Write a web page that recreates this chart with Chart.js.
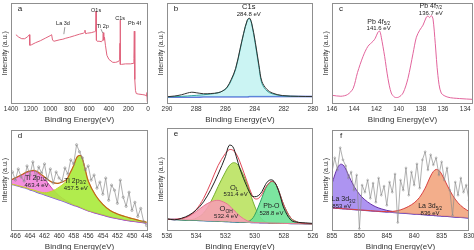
<!DOCTYPE html>
<html>
<head>
<meta charset="utf-8">
<script src="https://cdn.jsdelivr.net/npm/chart.js@4.4.1/dist/chart.umd.min.js"></script>
<style>
  html, body { margin: 0; padding: 0; background: #fff; width: 474px; height: 250px; overflow: hidden; }
  canvas { position: absolute; }
</style>
</head>
<body>
<canvas id="panelA"></canvas>
<canvas id="panelB"></canvas>
<canvas id="panelC"></canvas>
<canvas id="panelD"></canvas>
<canvas id="panelE"></canvas>
<canvas id="panelF"></canvas>
<script>
// ---- (a) survey ----
const surveyEnergy = [1350, 1320, 1290, 1260, 1230, 1212, 1208, 1190, 1150, 1100, 1050, 1000, 985, 975, 960, 900, 870, 840, 800, 750, 700, 660, 648, 644, 638, 620, 580, 545, 535, 531, 527, 520, 500, 475, 465, 460, 456, 452, 445, 435, 420, 400, 360, 330, 300, 290, 286, 284, 282, 270, 230, 180, 150, 144, 140, 137, 133, 128, 120, 100, 60, 30, 15, 10, 6, 0];
const surveyIntensity = [68.5, 66, 64.5, 64.5, 66.5, 68.5, 58, 58.5, 60.5, 62.5, 65, 67.5, 68.5, 63, 62, 63.5, 64, 65, 66, 67.5, 69, 70, 71, 73, 69.5, 70, 70.5, 71.5, 72, 92, 63, 62, 62, 61.5, 63, 69, 70.5, 63, 66, 58, 48, 44, 41, 41, 42, 43.5, 60, 83, 39, 39, 39.5, 39.5, 40, 45, 72, 40, 24, 13, 10, 9.5, 9, 8.5, 7.5, 11, 2, 1];
const surveyTicks = [1400, 1200, 1000, 800, 600, 400, 200, 0];

// ---- (b) C 1s ----
const c1sEnergy = [290, 289.5, 289, 288.6, 288.3, 288, 287.5, 287, 286.5, 286.2, 285.9, 285.6, 285.3, 285.0, 284.75, 284.5, 284.35, 284.2, 283.95, 283.7, 283.5, 283.15, 282.8, 282.1, 281, 280];
const c1sRaw = [6.8, 7.5, 8.8, 10.5, 11.3, 10.8, 9.8, 10, 10.8, 12.5, 16, 24, 35, 54, 70, 83, 85, 80, 61, 38, 22, 14, 10.6, 8, 7.2, 7];
const c1sFit = [6.6, 6.9, 7.2, 7.6, 7.9, 8.2, 8.8, 9.5, 10.8, 12.5, 15.5, 23, 34, 53, 69.5, 82.5, 84.5, 79, 59, 36, 20, 12.5, 9.8, 7.8, 7.1, 7];
const c1sBackground = [6.5, 6.5, 6.55, 6.6, 6.6, 6.65, 6.7, 6.7, 6.75, 6.8, 6.8, 6.85, 6.85, 6.9, 6.9, 6.9, 6.95, 6.95, 6.95, 7, 7, 7, 7, 7, 7, 7];
const c1sTicks = [290, 288, 286, 284, 282, 280];

// ---- (c) Pb 4f ----
const pbEnergy = [146, 145.2, 144.6, 144.1, 143.7, 143.2, 142.76, 142.3, 142.1, 141.86, 141.7, 141.56, 141.26, 140.96, 140.66, 140.36, 140, 139.6, 139.16, 138.7, 138.4, 138.1, 137.8, 137.5, 137.35, 137.2, 137.05, 136.9, 136.7, 136.46, 136.16, 135.56, 134.5, 133.3];
const pbIntensity = [8.3, 7.3, 9, 15, 31, 47, 57, 62, 65, 71, 72, 66, 47, 25, 10.5, 6.4, 6.4, 10.5, 25, 50, 66, 73, 78, 86, 87, 85.5, 87.5, 84, 60, 28, 10.5, 6.4, 5, 4.2];
const pbTicks = [146, 144, 142, 140, 138, 136, 134];

// ---- (d) Ti 2p ----
const tiRawEnergy = [466.4, 466.0, 465.6, 465.2, 464.8, 464.4, 464.0, 463.6, 463.2, 462.8, 462.4, 462.0, 461.6, 461.2, 460.8, 460.4, 460.0, 459.6, 459.2, 458.8, 458.4, 458.0, 457.6, 457.2, 456.8, 456.4, 456.0, 455.6, 455.2, 454.8, 454.4, 454.0, 453.6, 453.2, 452.8, 452.4, 452.0, 451.6, 451.2, 450.8, 450.4, 450.0, 449.6, 449.2, 448.8, 448.4, 448.0];
const tiRaw = [58, 50, 61, 53, 49, 64, 55, 68, 52, 63, 57, 66, 50, 61, 47, 58, 52, 49, 62, 56, 70, 66, 85, 78, 72, 60, 64, 50, 55, 42, 48, 36, 52, 30, 45, 40, 27, 50, 33, 24, 38, 20, 28, 14, 22, 9, 5];
const tiFitEnergy = [466.6, 466, 465, 464.5, 464, 463.5, 463, 462, 461, 460, 459, 458.5, 458, 457.5, 457, 456.5, 456, 455, 454, 453, 452, 451, 450, 449, 448];
const tiBackground = [46, 45, 43, 42, 40.5, 39.5, 38, 35.5, 33, 30.5, 28, 26.5, 25, 24, 22.5, 21, 19.5, 17.5, 15.5, 13.5, 12, 10.5, 9.5, 8.5, 7.5];
const ti2p12 = [50, 52, 55.5, 57.5, 58.5, 59, 57.5, 51, 42, 34.5, 29.5, 27.5, 25.5, 24.2, 22.6, 21.1, 19.6, 17.5, 15.5, 13.5, 12, 10.5, 9.5, 8.5, 7.5];
const ti2p32 = [46.2, 45.2, 43.3, 42.4, 41, 40.2, 39, 37.5, 39, 43, 49, 56, 64, 73, 74, 63, 49, 35, 26, 20, 16.5, 14, 12, 10, 8.3];
const tiEnvelope = [50.2, 52.2, 55.8, 57.9, 59, 59.7, 58.5, 53, 48, 47, 50.5, 57, 64.5, 73.2, 74.1, 63.1, 49.1, 35, 26, 20, 16.5, 14, 12, 10, 8.3];
const tiTicks = [466, 464, 462, 460, 458, 456, 454, 452, 450, 448];

// ---- (e) O 1s ----
const o1sEnergy = [536, 535.5, 535, 534.5, 534, 533.5, 533, 532.5, 532, 531.75, 531.5, 531.25, 531, 530.5, 530.2, 530, 529.75, 529.5, 529.25, 529, 528.75, 528.5, 528.25, 528, 527.5, 527, 526.5, 526];
const o1sRaw = [11.5, 10.5, 12, 15, 20, 28, 40, 55, 72, 83, 82, 72, 60, 42, 34, 33, 34, 38, 45, 49, 49, 44, 34, 22, 10, 8, 7.5, 7];
const o1sEnvelope = [11, 11, 11.8, 14.3, 20.5, 31.3, 46.6, 63.4, 75.2, 78.8, 78.5, 74.6, 66.8, 47, 35.5, 31.2, 31.3, 35.4, 42, 46.5, 48, 44, 35, 25, 12, 8, 7, 6.6];
const o1sOH = [11, 11, 11.8, 14, 18.5, 24, 28, 29.5, 27, 24.5, 21, 17.5, 14, 9.5, 8.3, 7.8, 7.7, 7.6, 7.5, 7.4, 7.3, 7.2, 7.1, 7, 6.9, 6.8, 6.7, 6.6];
const o1sLattice = [11, 10.8, 10.5, 10.5, 12, 17, 28, 43, 57, 63, 66, 65.5, 61, 45, 32, 24, 16, 11, 8.5, 7.4, 7.3, 7.2, 7.1, 7, 6.9, 6.8, 6.7, 6.6];
const o1sPbO = [11, 10.8, 10.5, 10.2, 10, 9.7, 9.4, 9.1, 8.8, 8.7, 8.5, 8.4, 8.2, 8.5, 11, 15, 23, 32, 41, 46.5, 48, 44, 35, 25, 12, 8, 7, 6.6];
const o1sBackground = [11, 10.8, 10.5, 10.2, 10, 9.7, 9.4, 9.1, 8.8, 8.7, 8.5, 8.4, 8.2, 8, 7.9, 7.8, 7.7, 7.6, 7.5, 7.4, 7.3, 7.2, 7.1, 7, 6.9, 6.8, 6.7, 6.6];
const o1sTicks = [536, 534, 532, 530, 528, 526];

// ---- (f) La 3d ----
const laRawEnergy = [855, 854.5, 854, 853.5, 853, 852.5, 852, 851.5, 851, 850.5, 850, 849.5, 849, 848.5, 848, 847.5, 847, 846.5, 846, 845.5, 845, 844.5, 844, 843.5, 843, 842.5, 842, 841.5, 841, 840.5, 840, 839.5, 839, 838.5, 838, 837.5, 837, 836.5, 836, 835.5, 835, 834.5, 834, 833.5, 833, 832.5, 832, 831.5, 831, 830.5, 830];
const laRaw = [58, 72, 60, 82, 70, 64, 52, 58, 40, 55, 2, 45, 38, 50, 32, 47, 28, 52, 35, 44, 25, 48, 38, 56, 8, 50, 40, 62, 35, 58, 45, 66, 42, 70, 78, 60, 75, 65, 72, 55, 68, 50, 62, 40, 15, 48, 35, 52, 38, 45, 30];
const laFitEnergy = [855, 854.5, 854, 853.5, 853, 852.5, 852, 851, 850, 849, 848, 847, 846, 845, 844, 843, 842, 841, 840, 839, 838, 837.5, 837, 836.5, 836, 835.5, 835, 834, 833, 832, 831, 830];
const laBackground = [22.5, 22.3, 22.1, 21.9, 21.7, 21.5, 21.3, 20.9, 20.5, 20.1, 19.7, 19.3, 18.9, 18.5, 18.1, 17.7, 17.3, 16.9, 16.5, 16.1, 15.7, 15.5, 15.3, 15.1, 14.9, 14.7, 14.5, 14.1, 13.7, 13.3, 12.9, 12.5];
const la3d32 = [46, 55, 62, 65.5, 65, 61, 55, 44, 36, 30.5, 26.5, 23.5, 21.5, 20, 19, 18.2, 17.6, 17.1, 16.6, 16.2, 15.8, 15.6, 15.4, 15.2, 15, 14.8, 14.6, 14.2, 13.8, 13.4, 13, 12.6];
const la3d52 = [22.5, 22.3, 22.1, 21.9, 21.7, 21.5, 21.3, 20.9, 20.5, 20.1, 19.7, 19.3, 18.9, 18.8, 19, 19.8, 21.5, 24, 27.5, 33, 42, 48, 54, 58.5, 60.5, 59.5, 56, 45, 35, 27.5, 22.5, 19];
const laTicks = [855, 850, 845, 840, 835, 830];

const FONT = '"Liberation Sans", Arial, sans-serif';
const decorById = {};

// 下付き文字つきラベルを描画
function drawLabel(ctx, x, y, text, sub, size) {
  ctx.font = size + 'px ' + FONT;
  const w1 = ctx.measureText(text).width;
  let w2 = 0;
  if (sub) {
    ctx.font = (size * 0.65) + 'px ' + FONT;
    w2 = ctx.measureText(sub).width;
  }
  const start = x - (w1 + w2) / 2;
  ctx.textAlign = 'left';
  ctx.textBaseline = 'middle';
  ctx.font = size + 'px ' + FONT;
  ctx.fillText(text, start, y);
  if (sub) {
    ctx.font = (size * 0.65) + 'px ' + FONT;
    ctx.fillText(sub, start + w1, y + size * 0.3);
  }
}

// 枠・パネル文字・注記
const panelDecor = {
  id: 'panelDecor',
  afterDatasetsDraw(chart) {
    const d = decorById[chart.canvas.id];
    if (!d) return;
    const { ctx, chartArea: a } = chart;
    const xs = chart.scales.x, ys = chart.scales.y;
    ctx.save();
    ctx.strokeStyle = '#8f8f8f';
    ctx.lineWidth = 1;
    ctx.strokeRect(Math.round(a.left) + 0.5, Math.round(a.top) + 0.5,
      Math.round(a.right - a.left) - 1, Math.round(a.bottom - a.top) - 1);
    ctx.fillStyle = '#222';
    ctx.font = '8px ' + FONT;
    ctx.textAlign = 'center';
    ctx.textBaseline = 'middle';
    ctx.fillText(d.letter, a.left + 9, a.top + 6);
    ctx.strokeStyle = '#555';
    ctx.lineWidth = 0.6;
    (d.leaders || []).forEach(l => {
      ctx.beginPath();
      ctx.moveTo(xs.getPixelForValue(l[0]), ys.getPixelForValue(l[1]));
      ctx.lineTo(xs.getPixelForValue(l[2]), ys.getPixelForValue(l[3]));
      ctx.stroke();
    });
    (d.labels || []).forEach(l => {
      ctx.fillStyle = '#222';
      drawLabel(ctx, xs.getPixelForValue(l.x), ys.getPixelForValue(l.y), l.text, l.sub, l.size || 6.5);
    });
    ctx.restore();
  }
};
Chart.register(panelDecor);

function pts(xs, ys) {
  return xs.map((x, i) => ({ x: x, y: ys[i] }));
}

function line(xs, ys, color, extra) {
  return Object.assign({
    data: pts(xs, ys),
    borderColor: color,
    borderWidth: 1,
    pointRadius: 0,
    tension: 0.35,
    fill: false
  }, extra || {});
}

function makePanel(id, area, xMin, xMax, ticks, datasets, decor) {
  const canvas = document.getElementById(id);
  const padL = 16, padT = 3, padR = 10, padB = 21;
  const w = area.right - area.left + padL + padR;
  const h = area.bottom - area.top + padT + padB;
  canvas.width = w;
  canvas.height = h;
  canvas.style.left = (area.left - padL) + 'px';
  canvas.style.top = (area.top - padT) + 'px';
  canvas.style.width = w + 'px';
  canvas.style.height = h + 'px';
  decorById[id] = decor;
  return new Chart(canvas, {
    type: 'line',
    data: { datasets: datasets },
    options: {
      responsive: false,
      animation: false,
      devicePixelRatio: 1,
      layout: { padding: { left: padL - 13.4, top: padT, right: padR, bottom: 0 } },
      plugins: { legend: { display: false }, tooltip: { enabled: false } },
      scales: {
        x: {
          type: 'linear',
          reverse: true,
          min: xMin,
          max: xMax,
          afterBuildTicks: s => { s.ticks = ticks.map(v => ({ value: v })); },
          grid: { display: false, drawTicks: false, tickLength: 0 },
          border: { display: false },
          ticks: { font: { family: FONT, size: 6.5 }, color: '#333', padding: 2, maxRotation: 0, autoSkip: false, callback: v => String(v) },
          title: { display: true, text: 'Binding Energy(eV)', font: { family: FONT, size: 8 }, color: '#333', padding: { top: 0, bottom: 1 } }
        },
        y: {
          min: 0,
          max: 100,
          ticks: { display: false },
          grid: { display: false, drawTicks: false, tickLength: 0 },
          border: { display: false },
          title: { display: true, text: 'Intensity (a.u.)', font: { family: FONT, size: 7 }, color: '#333', padding: { top: 3, bottom: 2 } }
        }
      }
    }
  });
}

// (a) survey
makePanel('panelA', { left: 11, top: 3, right: 148, bottom: 105 }, 0, 1400, surveyTicks, [
  line(surveyEnergy, surveyIntensity, '#e0647e', { tension: 0 })
], {
  letter: 'a',
  labels: [
    { x: 869, y: 80, text: 'La 3d', size: 5.5 },
    { x: 530, y: 93, text: 'O1s', size: 5.5 },
    { x: 462, y: 77, text: 'Ti 2p', size: 5.5 },
    { x: 284, y: 85, text: 'C1s', size: 5.5 },
    { x: 138, y: 80, text: 'Pb 4f', size: 5.5 }
  ],
  leaders: [[850, 76, 860, 69], [480, 74, 462, 70]]
});

// (b) C 1s
makePanel('panelB', { left: 167, top: 3, right: 313, bottom: 105 }, 280, 290, c1sTicks, [
  line(c1sEnergy, c1sRaw, '#333'),
  line(c1sEnergy, c1sFit, '#36a8a2', { fill: 2, backgroundColor: 'rgba(175,238,236,0.65)' }),
  line(c1sEnergy, c1sBackground, '#3550d0', { borderWidth: 1.5 })
], {
  letter: 'b',
  labels: [
    { x: 284.4, y: 96, text: 'C1s', size: 7.5 },
    { x: 284.4, y: 89, text: '284.8 eV', size: 6 }
  ]
});

// (c) Pb 4f
makePanel('panelC', { left: 332, top: 3, right: 473, bottom: 105 }, 133.3, 146, pbTicks, [
  line(pbEnergy, pbIntensity, '#e2649c', { tension: 0.3 })
], {
  letter: 'c',
  labels: [
    { x: 141.8, y: 81, text: 'Pb 4f', sub: '5/2', size: 7 },
    { x: 141.8, y: 75, text: '141.6 eV', size: 6 },
    { x: 137.1, y: 97, text: 'Pb 4f', sub: '7/2', size: 7 },
    { x: 137.1, y: 90, text: '136.7 eV', size: 6 }
  ]
});

// (d) Ti 2p
makePanel('panelD', { left: 11, top: 128, right: 148, bottom: 232 }, 447.8, 466.6, tiTicks, [
  line(tiRawEnergy, tiRaw, '#8c8c8c', { tension: 0, borderWidth: 0.7, pointRadius: 1.1, pointBorderWidth: 0.6, pointBorderColor: '#888', pointBackgroundColor: 'rgba(0,0,0,0)' }),
  line(tiFitEnergy, tiEnvelope, '#c0651c', { borderWidth: 1.2 }),
  line(tiFitEnergy, ti2p32, '#c8d030', { fill: 4, backgroundColor: 'rgba(168,234,58,0.9)' }),
  line(tiFitEnergy, ti2p12, '#d040b0', { fill: 4, backgroundColor: 'rgba(242,125,216,0.85)' }),
  line(tiFitEnergy, tiBackground, '#7a5ad8', { borderWidth: 1.5 })
], {
  letter: 'd',
  labels: [
    { x: 463.2, y: 52, text: 'Ti 2p', sub: '1/2', size: 7 },
    { x: 463.1, y: 45, text: '463.4 eV', size: 6 },
    { x: 457.8, y: 49, text: 'Ti 2p', sub: '3/2', size: 7 },
    { x: 457.7, y: 42, text: '457.5 eV', size: 6 }
  ]
});

// (e) O 1s
makePanel('panelE', { left: 167, top: 128, right: 313, bottom: 232 }, 526, 536, o1sTicks, [
  line(o1sEnergy, o1sRaw, '#222'),
  line(o1sEnergy, o1sEnvelope, '#e04858'),
  line(o1sEnergy, o1sOH, '#e67892', { fill: 5, backgroundColor: 'rgba(246,160,178,0.9)' }),
  line(o1sEnergy, o1sPbO, '#30a060', { fill: 5, backgroundColor: 'rgba(110,226,150,0.9)' }),
  line(o1sEnergy, o1sLattice, '#78b030', { fill: 5, backgroundColor: 'rgba(186,226,96,0.9)' }),
  line(o1sEnergy, o1sBackground, '#3040c0', { borderWidth: 1.3 })
], {
  letter: 'e',
  labels: [
    { x: 531.4, y: 42, text: 'O', sub: 'L', size: 7.5 },
    { x: 531.3, y: 35.5, text: '531.4 eV', size: 6 },
    { x: 531.95, y: 21, text: 'O', sub: 'OH', size: 7.5 },
    { x: 531.95, y: 14, text: '532.4 eV', size: 6 },
    { x: 528.85, y: 24, text: 'Pb-O', size: 7 },
    { x: 528.85, y: 17, text: '528.8 eV', size: 6 }
  ]
});

// (f) La 3d
makePanel('panelF', { left: 332, top: 128, right: 469, bottom: 232 }, 830, 855, laTicks, [
  line(laRawEnergy, laRaw, '#8e8e8e', { tension: 0, borderWidth: 0.7, pointRadius: 0.9, pointBorderWidth: 0.5, pointBorderColor: '#888', pointBackgroundColor: 'rgba(0,0,0,0)' }),
  line(laFitEnergy, la3d52, '#d84040', { fill: 3, backgroundColor: 'rgba(242,165,126,0.9)' }),
  line(laFitEnergy, la3d32, '#6a32a8', { fill: 3, backgroundColor: 'rgba(164,136,240,0.9)' }),
  line(laFitEnergy, laBackground, '#6040c0', { borderWidth: 1.5 })
], {
  letter: 'f',
  labels: [
    { x: 852.9, y: 31, text: 'La 3d', sub: '3/2', size: 7 },
    { x: 853.2, y: 24, text: '853 eV', size: 6 },
    { x: 837.1, y: 24, text: 'La 3d', sub: '5/2', size: 7 },
    { x: 837.1, y: 17, text: '836 eV', size: 6 }
  ]
});
</script>
</body>
</html>
